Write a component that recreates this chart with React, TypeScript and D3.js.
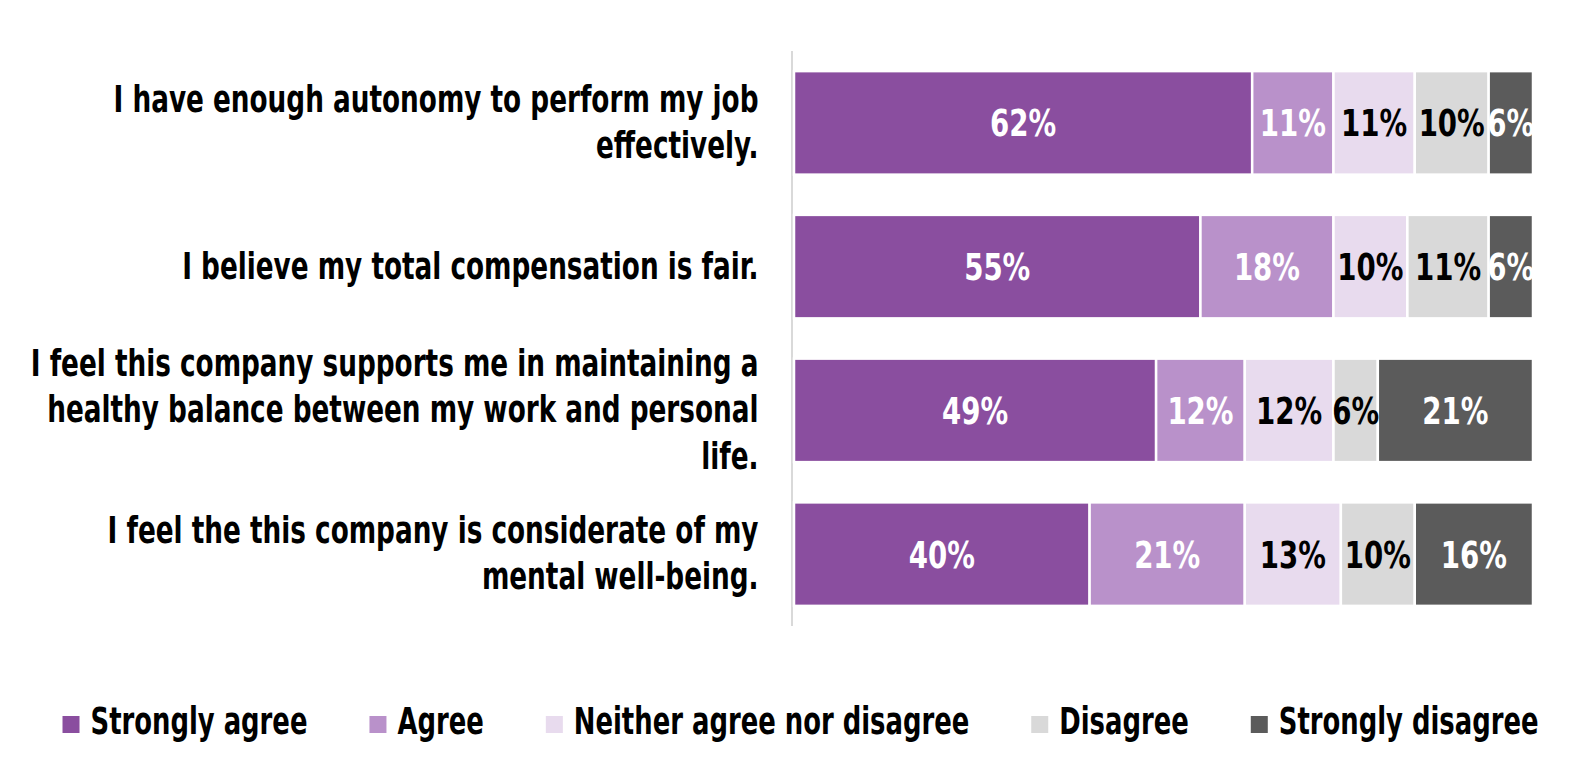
import { useEffect, useRef } from 'react';
import * as d3 from 'd3';

// survey statements, one bar each (top to bottom)
const statements = [
    ['I have enough autonomy to perform my job', 'effectively.'],
    ['I believe my total compensation is fair.'],
    ['I feel this company supports me in maintaining a', 'healthy balance between my work and personal', 'life.'],
    ['I feel the this company is considerate of my', 'mental well-being.'],
];

const responses = ['Strongly agree', 'Agree', 'Neither agree nor disagree', 'Disagree', 'Strongly disagree'];

// percent of answers per statement, in the order of `responses`
const stronglyAgree = [62, 55, 49, 40];
const agree = [11, 18, 12, 21];
const neither = [11, 10, 12, 13];
const disagree = [10, 11, 6, 10];
const stronglyDisagree = [6, 6, 21, 16];

const colors = ['#8A4E9F', '#B991CA', '#E8DBEE', '#D9D9D9', '#5B5B5B'];
const labelColors = ['#fff', '#fff', '#000', '#000', '#fff'];

const W = 1590;
const H = 783;
// no narrow font installed, so squeeze the condensed one a bit more
const FONT = '"DejaVu Sans Condensed", "Liberation Sans Narrow", sans-serif';
const SX_TEXT = 0.79;
const SX_LEGEND = 0.777;
const SX_LABEL = 0.83;

export default function App() {
    const svgRef = useRef(null);

    useEffect(() => {
        document.body.style.margin = '0';

        const svg = d3.select(svgRef.current);
        svg.selectAll('*').remove();

        const rows = statements.map((s, i) => ({
            key: i,
            lines: s,
            values: [stronglyAgree[i], agree[i], neither[i], disagree[i], stronglyDisagree[i]],
        }));

        const x = d3.scaleLinear().domain([0, 100]).range([794, 1533]);
        const y = d3.scaleBand()
            .domain(rows.map((r) => r.key))
            .range([51, 626])
            .paddingInner(0.28)
            .paddingOuter(0.14);

        const g = svg.append('g').style('font-family', FONT).style('font-weight', 'bold');

        // vertical axis line
        g.append('line')
            .attr('x1', 792).attr('x2', 792)
            .attr('y1', 51).attr('y2', 626)
            .attr('stroke', '#D9D9D9')
            .attr('stroke-width', 2);

        rows.forEach((r) => {
            let acc = 0;
            const segs = r.values.map((v, j) => {
                const s = { x0: acc, x1: acc + v, v, j };
                acc += v;
                return s;
            });
            const cy = y(r.key) + y.bandwidth() / 2;
            const row = g.append('g');

            // stacked segments
            row.selectAll('rect')
                .data(segs)
                .join('rect')
                .attr('x', (d) => x(d.x0))
                .attr('width', (d) => x(d.x1) - x(d.x0))
                .attr('y', y(r.key))
                .attr('height', y.bandwidth())
                .attr('fill', (d) => colors[d.j])
                .attr('stroke', '#fff')
                .attr('stroke-width', 2.5);

            // data labels
            row.selectAll('text')
                .data(segs)
                .join('text')
                .attr('transform', (d) => `translate(${x((d.x0 + d.x1) / 2)},${cy + 13.5}) scale(${SX_LABEL},1)`)
                .attr('text-anchor', 'middle')
                .attr('fill', (d) => labelColors[d.j])
                .style('font-size', '37px')
                .text((d) => `${d.v}%`);

            // category label, right aligned
            const lh = 46.7;
            r.lines.forEach((line, k) => {
                g.append('text')
                    .attr('transform', `translate(758.5,${cy + (k - (r.lines.length - 1) / 2) * lh + 12}) scale(${SX_TEXT},1)`)
                    .attr('text-anchor', 'end')
                    .style('font-size', '37px')
                    .attr('fill', '#000')
                    .text(line);
            });
        });

        // legend
        const legend = g.append('g');
        const items = responses.map((name, j) => {
            const it = legend.append('g');
            it.append('rect')
                .attr('width', 17).attr('height', 17)
                .attr('y', -18)
                .attr('fill', colors[j]);
            const txt = it.append('text')
                .attr('transform', `translate(28,0) scale(${SX_LEGEND},1)`)
                .style('font-size', '37px')
                .text(name);
            return { it, w: 28 + txt.node().getComputedTextLength() * SX_LEGEND };
        });
        const gap = 62;
        const total = d3.sum(items, (d) => d.w) + gap * (items.length - 1);
        let cx = 800.5 - total / 2;
        items.forEach((d) => {
            d.it.attr('transform', `translate(${cx},734)`);
            cx += d.w + gap;
        });
    }, []);

    return (
        <svg ref={svgRef} width={W} height={H} style={{ display: 'block', background: '#fff' }} />
    );
}
